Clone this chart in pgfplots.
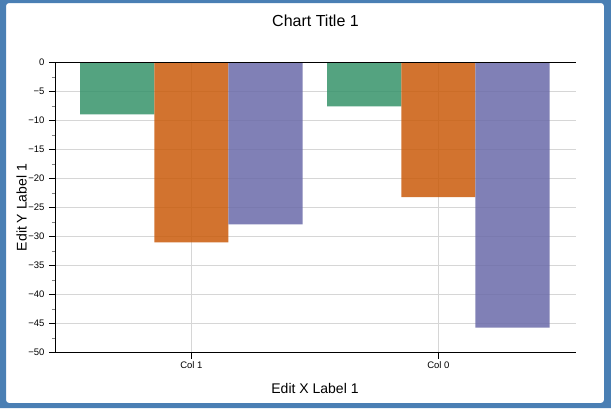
\documentclass[border=0pt]{standalone}
\usepackage{pgfplots}
\pgfplotsset{compat=1.18}
\usepackage{fontspec}
\setmainfont{Liberation Sans}
\definecolor{frameblue}{RGB}{74,127,180}
\definecolor{cgreen}{RGB}{54,147,106}
\definecolor{corange}{RGB}{202,91,10}
\definecolor{cpurple}{RGB}{106,106,169}
\definecolor{gridgray}{RGB}{214,214,214}
\begin{document}
\begin{tikzpicture}
\useasboundingbox (0pt,0pt) rectangle (611pt,-408pt);
\fill[frameblue, even odd rule] (0pt,0pt) rectangle (611pt,-408pt)
  [rounded corners=3pt] (6pt,-3pt) rectangle (604pt,-403pt);
\begin{axis}[
  at={(55pt,-352.5pt)}, anchor=south west,
  width=521pt, height=290pt, scale only axis,
  xmin=-0.552, xmax=1.557, ymin=-50, ymax=0,
  axis x line*=bottom, axis y line*=left,
  axis line style={black, line width=0.9pt, -},
  xtick={0,1}, xticklabels={Col 1, Col 0},
  ytick={-50,-45,-40,-35,-30,-25,-20,-15,-10,-5,0},
  yticklabels={−50,−45,−40,−35,−30,−25,−20,−15,−10,−5,0},
  minor y tick num=1,
  tick align=outside,
  major tick length=6pt, minor tick length=3pt,
  tick style={black, line width=0.8pt},
  minor tick style={gray, line width=0.6pt},
  xmajorgrids, ymajorgrids,
  major grid style={gridgray, line width=0.8pt},
  ticklabel style={font=\fontsize{9.5}{11}\selectfont},
  yticklabel style={xshift=-1pt},
  title={Chart Title 1},
  title style={font=\fontsize{16}{19}\selectfont, at={(axis description cs:0.5,1.1028)}, anchor=base},
  xlabel={Edit X Label 1},
  xlabel style={font=\fontsize{14}{17}\selectfont, at={(axis description cs:0.499,-0.1414)}, anchor=base},
  ylabel={Edit Y Label 1},
  ylabel style={font=\fontsize{14}{17}\selectfont, at={(axis description cs:-0.0643,0.5)}, anchor=center, rotate=0},
  ybar, bar width=0.3,
  every axis plot/.append style={draw=none, fill opacity=0.85},
]
\addplot[fill=cgreen, bar shift=-0.3] coordinates {(0,-8.93) (1,-7.55)};
\addplot[fill=corange, bar shift=0] coordinates {(0,-31.0) (1,-23.2)};
\addplot[fill=cpurple, bar shift=0.3] coordinates {(0,-27.9) (1,-45.7)};
\draw[black, line width=1.1pt] (rel axis cs:0,1) -- (rel axis cs:1,1);
\end{axis}
\end{tikzpicture}
\end{document}
